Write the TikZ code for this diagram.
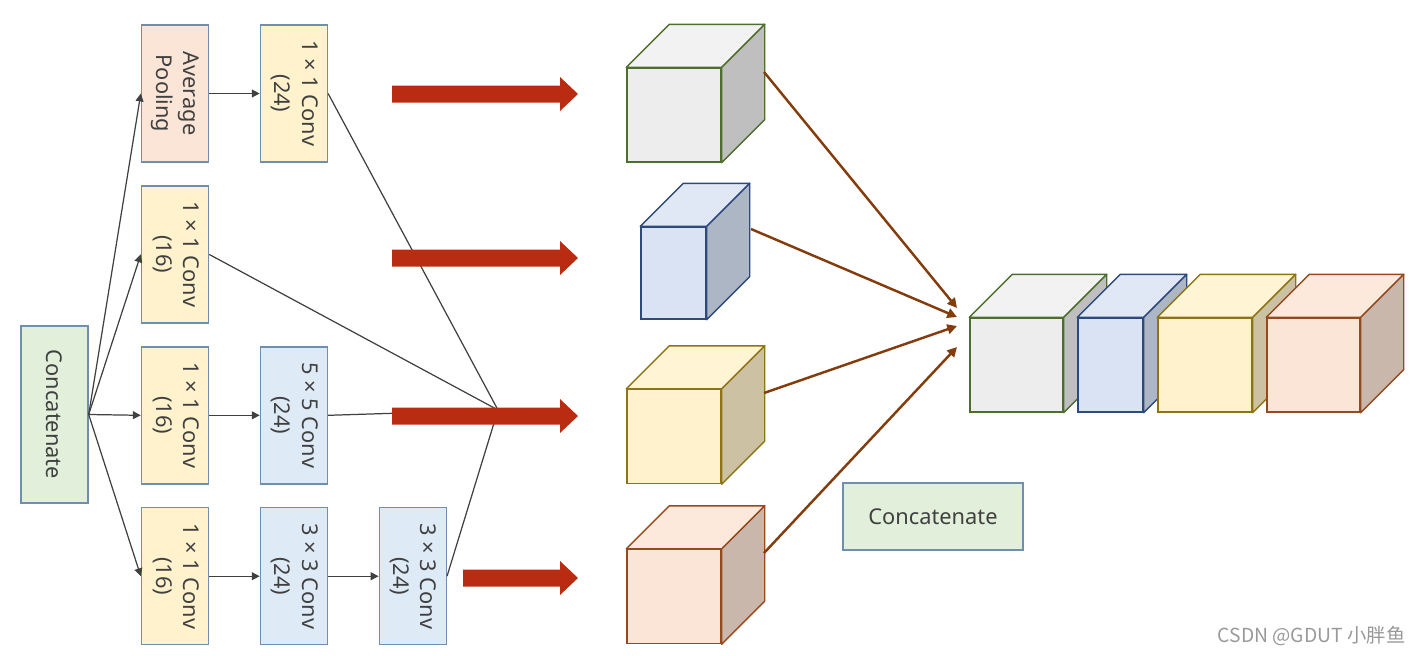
\documentclass[tikz,border=0pt]{standalone}
\usepackage{fontspec}
\setmainfont{Noto Sans}
\newfontfamily\cjk{Noto Sans CJK SC}
\usetikzlibrary{arrows.meta,positioning,calc}

\definecolor{boxedge}{HTML}{6F8FAF}
\definecolor{txt}{HTML}{404040}
\definecolor{fgreen}{HTML}{E2EFDA}
\definecolor{fpeach}{HTML}{FBE5D6}
\definecolor{fyellow}{HTML}{FFF2CC}
\definecolor{fblue}{HTML}{DEEBF7}
\definecolor{redarr}{HTML}{B92C11}
\definecolor{brownarr}{HTML}{843C0C}
% 立方体颜色
\definecolor{gfront}{HTML}{EDEDED}\definecolor{gtop}{HTML}{F2F2F2}\definecolor{gside}{HTML}{BFBFBF}\definecolor{gedge}{HTML}{4E6E2E}
\definecolor{bfront}{HTML}{DAE3F3}\definecolor{btop}{HTML}{E1E8F5}\definecolor{bside}{HTML}{ADB6C4}\definecolor{bedge}{HTML}{2E4A7D}
\definecolor{yfront}{HTML}{FFF2CC}\definecolor{ytop}{HTML}{FFF4D3}\definecolor{yside}{HTML}{CCC2A3}\definecolor{yedge}{HTML}{8E7417}
\definecolor{ofront}{HTML}{FBE5D6}\definecolor{otop}{HTML}{FCE9DC}\definecolor{oside}{HTML}{C9B7AB}\definecolor{oedge}{HTML}{944A1E}

\newcommand{\vtext}[1]{\rotatebox{-90}{\begin{tabular}{@{}c@{}}#1\end{tabular}}}
\newcommand{\conv}[2]{\textbf{#1} × \textbf{#2} Conv}
% 立方体的顶面和侧面
\newcommand{\cubefaces}[4]{%
  \filldraw[fill=#2, draw=#4, line width=0.8pt, line join=round] (#1.north west) -- ++(0.86,0.86) -- ($(#1.north east)+(0.86,0.86)$) -- (#1.north east) -- cycle;
  \filldraw[fill=#3, draw=#4, line width=0.8pt, line join=round] (#1.north east) -- ++(0.86,0.86) -- ($(#1.south east)+(0.86,0.86)$) -- (#1.south east) -- cycle;
}
% 粗红箭头
\newcommand{\fatarrow}[2]{\fill[redarr] #1 ++(0,0.17) -- ++(#2,0) -- ++(0,0.17) -- ++(0.36,-0.34) -- ++(-0.36,-0.34) -- ++(0,0.17) -- ++(-#2,0) -- cycle;}

\tikzset{
  blk/.style={draw=boxedge, line width=0.8pt, rectangle, inner sep=0pt, text=txt,
    minimum width=1.34cm, minimum height=2.74cm, font=\fontsize{12.4}{15.4}\selectfont},
  link/.style={draw=txt, line width=0.7pt},
  lnk/.style={link, -{Triangle[length=4.5pt,width=4.5pt]}},
  merge/.style={draw=brownarr, line width=1.4pt, -{Triangle[length=5.5pt,width=5.5pt]}},
  cube/.style={draw=#1, line width=0.8pt, rectangle, inner sep=0pt}
}

\begin{document}
\begin{tikzpicture}
\useasboundingbox (0,0) rectangle (28.44,-13.1);

% 左侧 Inception 模块
\node[blk, fill=fgreen, minimum height=3.54cm] (cat) at (1.09,-8.29) {\rotatebox{-90}{Concatenate}};
\node[blk, fill=fpeach] (pool) at (3.5,-1.87) {\vtext{Average\\Pooling}};
\node[blk, fill=fyellow, right=1.01cm of pool] (convA) {\vtext{\conv{1}{1}\\(24)}};
\node[blk, fill=fyellow, below=0.45cm of pool] (convB) {\vtext{\conv{1}{1}\\(16)}};
\node[blk, fill=fyellow, below=0.45cm of convB] (convC) {\vtext{\conv{1}{1}\\(16)}};
\node[blk, fill=fblue, right=1.01cm of convC] (convD) {\vtext{\conv{5}{5}\\(24)}};
\node[blk, fill=fyellow, below=0.45cm of convC] (convE) {\vtext{\conv{1}{1}\\(16)}};
\node[blk, fill=fblue, right=1.01cm of convE] (convF) {\vtext{\conv{3}{3}\\(24)}};
\node[blk, fill=fblue, right=1.01cm of convF] (convG) {\vtext{\conv{3}{3}\\(24)}};

% 分支
\draw[lnk] (cat.east) -- (pool.west);
\draw[lnk] (cat.east) -- (convB.west);
\draw[lnk] (cat.east) -- (convC.west);
\draw[lnk] (cat.east) -- (convE.west);
\draw[lnk] (pool) -- (convA);
\draw[lnk] (convC) -- (convD);
\draw[lnk] (convE) -- (convF);
\draw[lnk] (convF) -- (convG);

% 汇合
\coordinate (mid) at (9.96,-8.2);
\draw[link] (convA.east) -- (mid);
\draw[link] (convB.east) -- (mid);
\draw[link] (convD.east) -- (mid);
\draw[link] (convG.east) -- (mid);

% 红色箭头
\fatarrow{(7.84,-1.88)}{3.36}
\fatarrow{(7.84,-5.16)}{3.36}
\fatarrow{(7.84,-8.32)}{3.36}
\fatarrow{(9.26,-11.56)}{1.94}

% 各分支输出
\node[cube=gedge, fill=gfront, minimum width=1.88cm, minimum height=1.88cm] (c1) at (13.48,-2.3) {};
\cubefaces{c1}{gtop}{gside}{gedge}
\node[cube=bedge, fill=bfront, minimum width=1.3cm, minimum height=1.84cm] (c2) at (13.47,-5.46) {};
\cubefaces{c2}{btop}{bside}{bedge}
\node[cube=yedge, fill=yfront, minimum width=1.88cm, minimum height=1.88cm] (c3) at (13.48,-8.73) {};
\cubefaces{c3}{ytop}{yside}{yedge}
\node[cube=oedge, fill=ofront, minimum width=1.88cm, minimum height=1.88cm] (c4) at (13.48,-11.93) {};
\cubefaces{c4}{otop}{oside}{oedge}

% 拼接结果
\node[cube=gedge, fill=gfront, minimum width=1.86cm, minimum height=1.88cm] (r1) at (20.33,-7.3) {};
\cubefaces{r1}{gtop}{gside}{gedge}
\node[cube=bedge, fill=bfront, minimum width=1.3cm, minimum height=1.88cm] (r2) at (22.21,-7.3) {};
\cubefaces{r2}{btop}{bside}{bedge}
\node[cube=yedge, fill=yfront, minimum width=1.88cm, minimum height=1.88cm] (r3) at (24.1,-7.3) {};
\cubefaces{r3}{ytop}{yside}{yedge}
\node[cube=oedge, fill=ofront, minimum width=1.86cm, minimum height=1.88cm] (r4) at (26.27,-7.3) {};
\cubefaces{r4}{otop}{oside}{oedge}

% 棕色箭头
\coordinate (o1) at (15.28,-1.44);
\coordinate (o2) at (15.02,-4.58);
\coordinate (o3) at (15.28,-7.86);
\coordinate (o4) at (15.28,-11.06);
\coordinate (t1) at (19.14,-6.16);
\coordinate (t2) at (19.14,-6.34);
\coordinate (t3) at (19.14,-6.52);
\coordinate (t4) at (19.14,-6.94);
\draw[merge] (o1) -- (t1);
\draw[merge] (o2) -- (t2);
\draw[merge] (o3) -- (t3);
\draw[merge] (o4) -- (t4);

\node[blk, fill=fgreen, minimum width=3.6cm, minimum height=1.34cm] (cat2) at (18.66,-10.33) {Concatenate};

\node[text=gray!80, font=\cjk\fontsize{11}{13}\selectfont] (mark) at (26.23,-12.72) {CSDN @GDUT 小胖鱼};
\end{tikzpicture}
\end{document}
